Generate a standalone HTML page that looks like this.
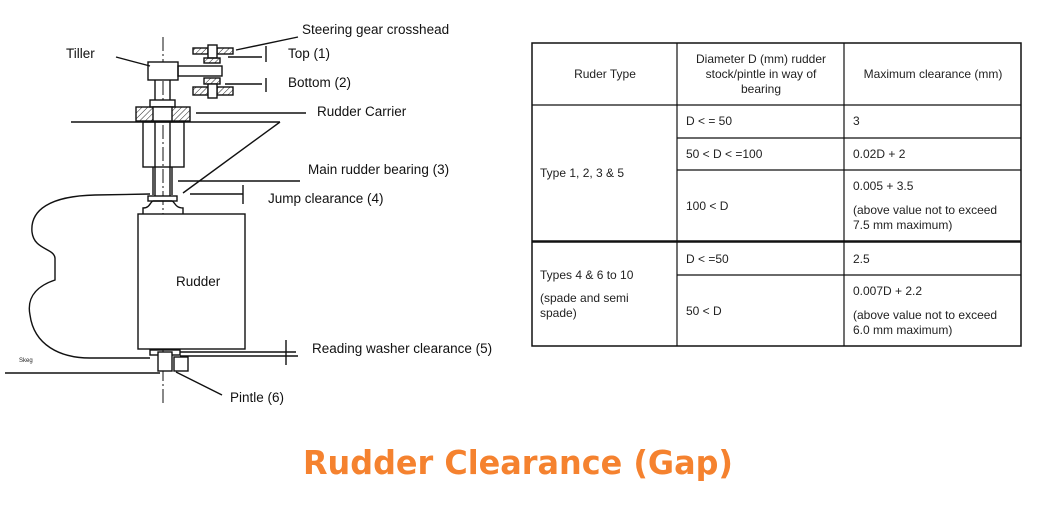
<!DOCTYPE html>
<html><head><meta charset="utf-8"><style>
html,body{margin:0;padding:0;background:#fff;width:1048px;height:508px;overflow:hidden}
svg{display:block}
.l{font-family:"Liberation Sans",sans-serif;font-size:13.5px;fill:#111}
.t{font-family:"Liberation Sans",sans-serif;font-size:12px;fill:#222}
.ttl{font-family:"DejaVu Sans","Liberation Sans",sans-serif;font-size:33px;font-weight:bold;fill:#f5822f}
</style></head><body>
<svg width="1048" height="508" viewBox="0 0 1048 508" xmlns="http://www.w3.org/2000/svg">
<defs><pattern id="h" width="4" height="4" patternUnits="userSpaceOnUse" patternTransform="rotate(45)"><line x1="0" y1="0" x2="0" y2="4" stroke="#222" stroke-width="1"/></pattern></defs>
<g stroke="#111" stroke-width="1.4" fill="none">
<line x1="163" y1="37" x2="163" y2="403" stroke-dasharray="14,3,2,3" stroke-width="1"/>
<rect x="148" y="62" width="30" height="18" fill="#fff"/>
<rect x="178" y="66" width="44" height="10"/>
<line x1="116" y1="57" x2="150" y2="66"/>
<rect x="193" y="48" width="15" height="6" fill="url(#h)"/><rect x="217" y="48" width="16" height="6" fill="url(#h)"/>
<rect x="208" y="45" width="9" height="13" fill="#fff"/><rect x="204" y="58" width="16" height="5" fill="url(#h)"/>
<rect x="204" y="78" width="16" height="6" fill="url(#h)"/>
<rect x="193" y="87" width="15" height="8" fill="url(#h)"/><rect x="217" y="87" width="16" height="8" fill="url(#h)"/>
<rect x="208" y="84" width="9" height="14" fill="#fff"/>
<line x1="236" y1="50" x2="298" y2="37"/>
<line x1="228" y1="57" x2="262" y2="57"/><line x1="225" y1="84" x2="262" y2="84"/>
<line x1="266" y1="46" x2="266" y2="62"/><line x1="266" y1="78" x2="266" y2="92"/>
<line x1="155" y1="80" x2="155" y2="196"/><line x1="170" y1="80" x2="170" y2="196"/>
<rect x="150" y="100" width="25" height="7" fill="#fff"/>
<rect x="136" y="107" width="54" height="14" fill="url(#h)"/>
<rect x="153" y="107" width="19" height="14" fill="#fff"/>
<line x1="71" y1="122" x2="280" y2="122"/>
<line x1="280" y1="122" x2="183" y2="193"/>
<line x1="196" y1="113" x2="306" y2="113"/>
<rect x="143" y="122" width="41" height="45"/>
<line x1="153" y1="167" x2="153" y2="195"/><line x1="172" y1="167" x2="172" y2="195"/>
<line x1="178" y1="181" x2="300" y2="181"/>
<line x1="190" y1="194" x2="243" y2="194"/><line x1="243" y1="185" x2="243" y2="204"/>
<path d="M150 194 L95 195 C50 196 30 210 32 232 C34 250 54 248 55 258 L55 280 C40 285 26 295 30 315 C34 345 60 358 90 358 L150 358"/>
<rect x="148" y="196" width="29" height="5" fill="#fff"/>
<path d="M143 214 L143 208 C150 208 150 202 153 201 L172 201 C175 202 175 208 183 208 L183 214"/>
<rect x="138" y="214" width="107" height="135" fill="#fff"/>
<rect x="150" y="350" width="30" height="5"/>
<rect x="158" y="352" width="14" height="19" fill="#fff"/>
<rect x="174" y="357" width="14" height="14"/>
<line x1="5" y1="373" x2="160" y2="373"/>
<line x1="180" y1="352" x2="296" y2="352"/><line x1="180" y1="356" x2="298" y2="356"/>
<line x1="286" y1="340" x2="286" y2="365"/>
<line x1="176" y1="372" x2="222" y2="395"/>
</g>
<text class="l" x="302" y="34">Steering gear crosshead</text>
<text class="l" x="66" y="58">Tiller</text>
<text class="l" x="288" y="58">Top (1)</text>
<text class="l" x="288" y="87">Bottom (2)</text>
<text class="l" x="317" y="116">Rudder Carrier</text>
<text class="l" x="308" y="174">Main rudder bearing (3)</text>
<text class="l" x="268" y="203">Jump clearance (4)</text>
<text class="l" x="176" y="286">Rudder</text>
<text class="l" x="312" y="353">Reading washer clearance (5)</text>
<text class="l" x="230" y="402">Pintle (6)</text>
<text x="19" y="362" style="font-family:'Liberation Sans',sans-serif;font-size:6px;fill:#222">Skeg</text>
<g stroke="#111" stroke-width="1.2">
<rect x="532" y="43" width="489" height="303" fill="none" stroke-width="1.5"/>
<line x1="677" y1="43" x2="677" y2="346"/><line x1="844" y1="43" x2="844" y2="346"/>
<line x1="532" y1="105" x2="1021" y2="105"/>
<line x1="677" y1="138" x2="1021" y2="138"/>
<line x1="677" y1="170" x2="1021" y2="170"/>
<line x1="532" y1="241.5" x2="1021" y2="241.5" stroke-width="2.5"/>
<line x1="677" y1="275" x2="1021" y2="275"/>
</g>
<g class="t">
<text x="605" y="78" text-anchor="middle" class="t">Ruder Type</text>
<text x="761" y="63" text-anchor="middle" class="t">Diameter D (mm) rudder</text>
<text x="761" y="78" text-anchor="middle" class="t">stock/pintle in way of</text>
<text x="761" y="93" text-anchor="middle" class="t">bearing</text>
<text x="933" y="78" text-anchor="middle" class="t">Maximum clearance (mm)</text>
<text x="686" y="125" class="t">D &lt; = 50</text><text x="853" y="125" class="t">3</text>
<text x="686" y="158" class="t">50 &lt; D &lt; =100</text><text x="853" y="158" class="t">0.02D + 2</text>
<text x="540" y="177" class="t">Type 1, 2, 3 &amp; 5</text>
<text x="686" y="210" class="t">100 &lt; D</text>
<text x="853" y="190" class="t">0.005 + 3.5</text>
<text x="853" y="214" class="t">(above value not to exceed</text>
<text x="853" y="229" class="t">7.5 mm maximum)</text>
<text x="686" y="263" class="t">D &lt; =50</text><text x="853" y="263" class="t">2.5</text>
<text x="540" y="279" class="t">Types 4 &amp; 6 to 10</text>
<text x="540" y="302" class="t">(spade and semi</text>
<text x="540" y="317" class="t">spade)</text>
<text x="686" y="315" class="t">50 &lt; D</text>
<text x="853" y="295" class="t">0.007D + 2.2</text>
<text x="853" y="319" class="t">(above value not to exceed</text>
<text x="853" y="334" class="t">6.0 mm maximum)</text>
</g>
<text class="ttl" x="518" y="474" text-anchor="middle" textLength="430" lengthAdjust="spacingAndGlyphs">Rudder Clearance (Gap)</text>
</svg>
</body></html>
